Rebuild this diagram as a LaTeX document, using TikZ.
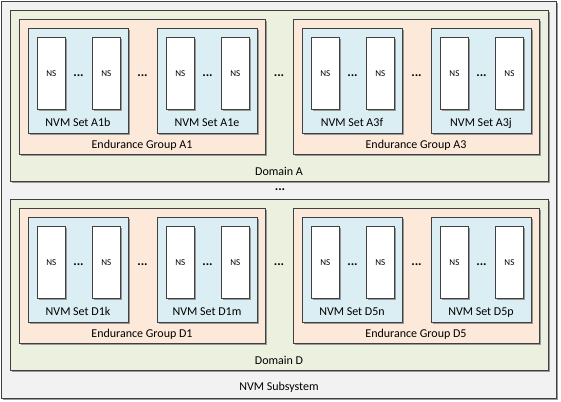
\documentclass[tikz,border=0pt]{standalone}
\usepackage{fontspec}
\setmainfont{Carlito}
\usetikzlibrary{shadows}

\definecolor{subsysfill}{HTML}{F2F2F2}
\definecolor{domainfill}{HTML}{EBF1DE}
\definecolor{groupfill}{HTML}{FDE9D9}
\definecolor{setfill}{HTML}{DAEEF3}
\definecolor{boxline}{HTML}{404040}

\tikzset{
  box/.style={draw=boxline, line width=0.8pt, rectangle, inner sep=0pt, anchor=north west,
    drop shadow={shadow xshift=1.2pt, shadow yshift=-1.2pt, fill=black!40, opacity=1}},
  lbl/.style={inner sep=0pt, text height=7.5pt, text depth=0pt},
  dots/.style={inner sep=0pt, font=\fontsize{13}{14}\selectfont\bfseries},
  nsbox/.style={box, fill=white, minimum width=28pt, minimum height=72pt,
    font=\fontsize{9}{10}\selectfont}
}

\begin{document}
\begin{tikzpicture}[x=1pt, y=-1pt, font=\fontsize{12}{14}\selectfont]
	\useasboundingbox (0,0) rectangle (561,401);

	\node[box, fill=subsysfill, minimum width=555pt, minimum height=397pt] (subsys) at (1,1) {};
	\node[lbl] (subsyslbl) at (279,387) {NVM Subsystem};
	\node[dots] (domdots) at (280,190) {...};

	\foreach \dom/\dy/\ga/\gb/\sa/\sb/\sc/\sd in {A/0/A1/A3/A1b/A1e/A3f/A3j, D/189/D1/D5/D1k/D1m/D5n/D5p} {
		\node[box, fill=domainfill, minimum width=538pt, minimum height=171pt] (dom\dom) at (10,10+\dy) {};
		\node[lbl] (dom\dom lbl) at (279,172+\dy) {Domain \dom};
		\node[dots] (grpdots\dom) at (279,76+\dy) {...};

		\foreach \gname/\gx in {\ga/19, \gb/293} {
			\node[box, fill=groupfill, minimum width=246pt, minimum height=135pt] (grp\gname) at (\gx,19+\dy) {};
			\node[lbl] (grp\gname lbl) at (\gx+123,145+\dy) {Endurance Group \gname};
		}
		\node[dots] (setdots\ga) at (142.5,76+\dy) {...};
		\node[dots] (setdots\gb) at (416.5,76+\dy) {...};

		\foreach \sname/\sx in {\sa/28, \sb/157, \sc/302, \sd/431} {
			\node[box, fill=setfill, minimum width=100pt, minimum height=105pt] (set\sname) at (\sx,28+\dy) {};
			\node[lbl] (set\sname lbl) at (\sx+50,123+\dy) {NVM Set \sname};
			\node[nsbox] (ns\sname first) at (\sx+9,37+\dy) {NS};
			\node[nsbox] (ns\sname last) at (\sx+64,37+\dy) {NS};
			\node[dots] (nsdots\sname) at (\sx+50.5,76+\dy) {...};
		}
	}
\end{tikzpicture}
\end{document}
